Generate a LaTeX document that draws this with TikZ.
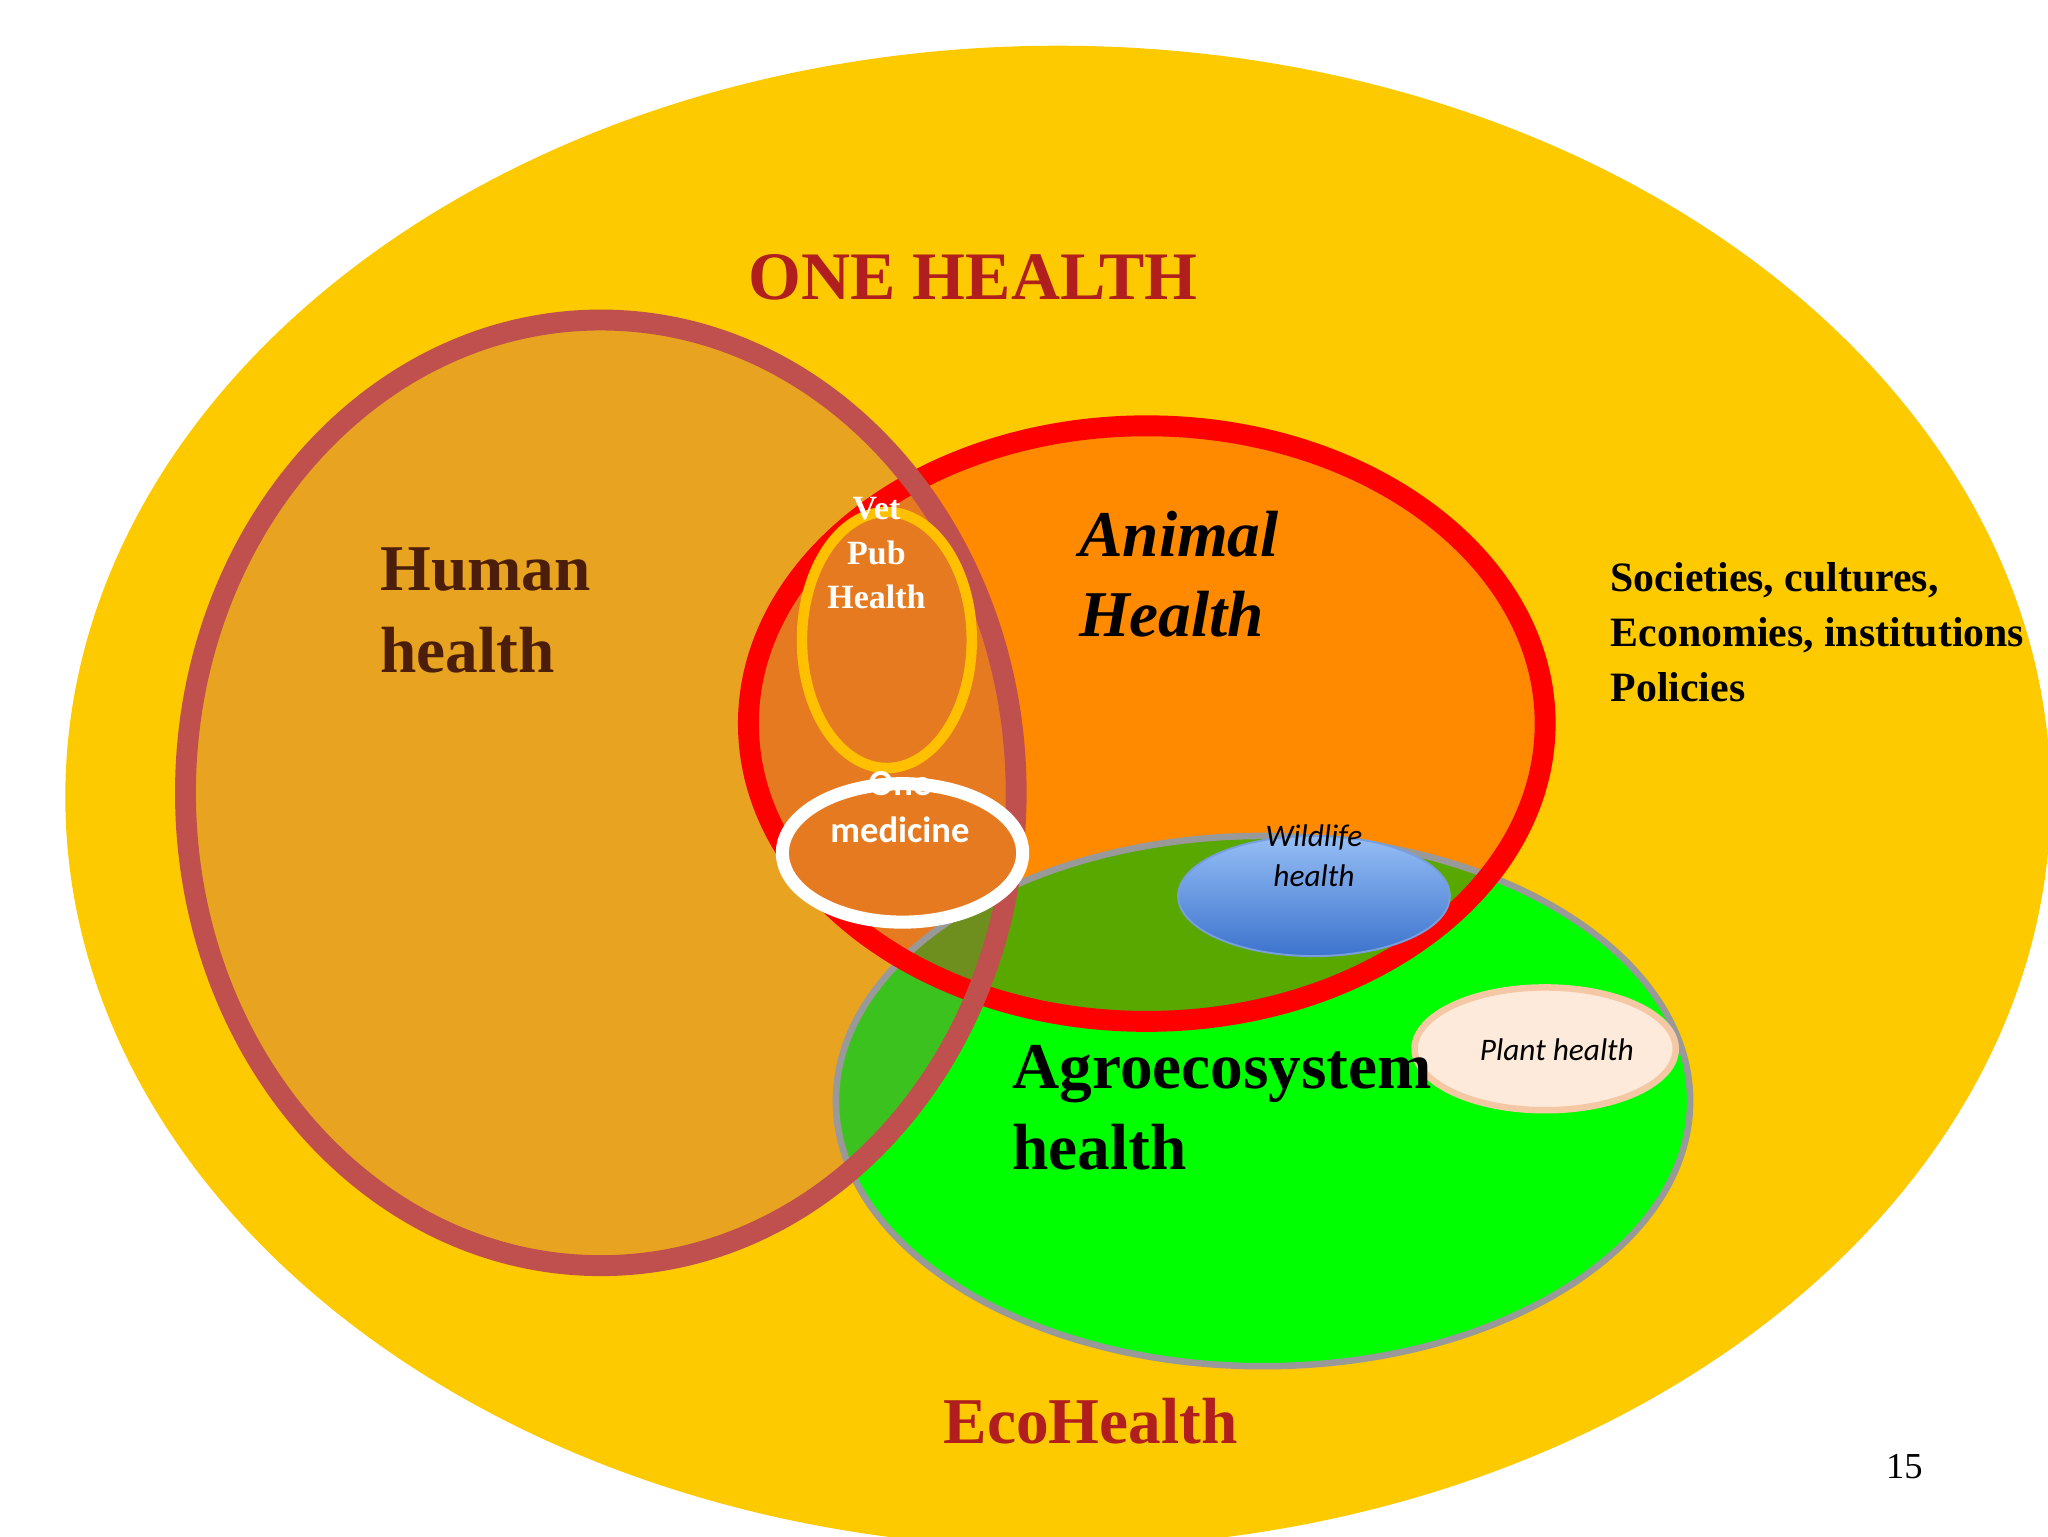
\documentclass[tikz,border=0pt]{standalone}
\usepackage{fontspec}
\setmainfont{Liberation Serif}
\newfontfamily\calfont{Carlito}
\begin{document}
\begin{tikzpicture}[x=1pt,y=-1pt,
 lbl/.style={inner sep=0pt,align=left}]
\useasboundingbox (0,0) rectangle (1568,1176);
\clip (0,0) rectangle (1568,1176);
\fill[white] (0,0) rectangle (1568,1176);
\definecolor{yel}{HTML}{FDCA00}
\definecolor{hum}{HTML}{E8A420}
\definecolor{humb}{HTML}{C0504D}
\definecolor{ani}{HTML}{FF8A00}
\definecolor{agro}{HTML}{00FF00}
\definecolor{ha}{HTML}{E67A20}
\definecolor{aa}{HTML}{58A800}
\definecolor{hg}{HTML}{3CC21E}
\definecolor{all}{HTML}{6E8E1E}
\definecolor{dred}{HTML}{B01E1E}
\definecolor{brown}{HTML}{4A1E0A}
\definecolor{vety}{HTML}{FFC000}
\definecolor{wlb}{HTML}{789FDC}
\definecolor{wlt}{HTML}{96BEF5}
\definecolor{wld}{HTML}{3C73CD}
\definecolor{plf}{HTML}{FDEADA}
\definecolor{plb}{HTML}{F5C8A5}
\fill[yel] (810,610) ellipse [x radius=760,y radius=575];
\def\H{(460,607) ellipse [x radius=318,y radius=362]}
\def\A{(878,554) ellipse [x radius=305,y radius=228]}
\def\G{(967,843) ellipse [x radius=327,y radius=203]}
\fill[hum] \H; \fill[ani] \A; \fill[agro] \G;
\begin{scope}\clip \H; \fill[ha] \A; \fill[hg] \G; \end{scope}
\begin{scope}\clip \A; \fill[aa] \G; \clip \H; \fill[all] \G; \end{scope}
\draw[gray!80,line width=5] \G;
\draw[red,line width=16] \A;
\draw[humb,line width=16] \H;
\fill[ha] (679,490) ellipse [x radius=65,y radius=98];
\draw[vety,line width=8] (679,490) ellipse [x radius=65,y radius=98];
\fill[ha] (691,653) ellipse [x radius=92,y radius=53];
\draw[white,line width=10] (691,653) ellipse [x radius=92,y radius=53];
\shade[top color=wlt,bottom color=wld] (1006,686) ellipse [x radius=104,y radius=46];
\draw[wlb,line width=1.5] (1006,686) ellipse [x radius=104,y radius=46];
\fill[plf] (1183,803) ellipse [x radius=100,y radius=47];
\draw[plb,line width=5] (1183,803) ellipse [x radius=100,y radius=47];
\node[lbl,text=dred,font={\bfseries\fontsize{52}{60}\selectfont}] (oh) at (745,212) {ONE HEALTH};
\node[lbl,text=brown,font={\bfseries\fontsize{50}{63}\selectfont},anchor=base west] (hh) at (291,515) {Human\\health};
\node[lbl,font={\bfseries\itshape\fontsize{50}{61}\selectfont},anchor=base west] (ah) at (826,487) {Animal\\Health};
\node[lbl,text=white,font={\bfseries\fontsize{26}{34}\selectfont},align=center,anchor=base] (vt) at (671,466) {Vet\\Pub\\Health};
\node[lbl,text=white,font={\calfont\bfseries\fontsize{28}{36}\selectfont},align=center,anchor=base] (om) at (689,645) {One\\medicine};
\node[lbl,font={\calfont\itshape\fontsize{24}{31}\selectfont},align=center,anchor=base] (wl) at (1006,679) {Wildlife\\health};
\node[lbl,font={\calfont\itshape\fontsize{24}{30}\selectfont},anchor=base] (ph) at (1192,812) {Plant health};
\node[lbl,font={\bfseries\fontsize{32}{42}\selectfont},anchor=base west] (so) at (1233,537) {Societies, cultures,\\Economies, institutions\\Policies};
\node[lbl,font={\bfseries\fontsize{50}{62}\selectfont},anchor=base west] (ag) at (775,895) {Agroecosystem\\health};
\node[lbl,text=dred,font={\bfseries\fontsize{50}{60}\selectfont}] (eh) at (835,1088) {EcoHealth};
\node[lbl,font={\fontsize{28}{30}\selectfont}] (pg) at (1458,1123) {15};
\end{tikzpicture}
\end{document}
